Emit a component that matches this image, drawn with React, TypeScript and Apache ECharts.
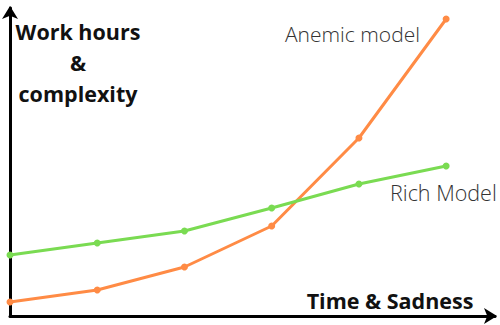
import React, { useEffect, useRef } from "react";
import * as echarts from "echarts";

const xPositions = [0, 1, 2, 3, 4, 5];
const anemicValues = [14, 26, 49, 90, 178, 297];
const richValues = [61, 73, 85, 108, 132, 150];
const yAxisTitle = "Work hours\n&\ncomplexity";
const xAxisTitle = "Time & Sadness";
const anemicLabel = "Anemic model";
const richLabel = "Rich Model";

export default function App() {
  const ref = useRef<HTMLDivElement>(null);
  useEffect(() => {
    if (!ref.current) return;
    const chart = echarts.init(ref.current, null, { renderer: "svg" });
    const font = "'Open Sans', sans-serif";
    chart.setOption({
      animation: false,
      backgroundColor: "#ffffff",
      grid: { left: 10, right: 5, top: 8, bottom: 9 },
      xAxis: {
        type: "value",
        min: 0,
        max: 5.56,
        axisLine: {
          show: true,
          symbol: ["none", "arrow"],
          symbolSize: [12, 13],
          symbolOffset: [0, 2],
          lineStyle: { color: "#000", width: 3 },
        },
        axisTick: { show: false },
        axisLabel: { show: false },
        splitLine: { show: false },
      },
      yAxis: {
        type: "value",
        min: 0,
        max: 308,
        axisLine: {
          show: true,
          symbol: ["none", "arrow"],
          symbolSize: [12, 13],
          symbolOffset: [0, 2],
          lineStyle: { color: "#000", width: 3 },
        },
        axisTick: { show: false },
        axisLabel: { show: false },
        splitLine: { show: false },
      },
      series: [
        {
          name: anemicLabel,
          type: "line",
          data: xPositions.map((x, i) => [x, anemicValues[i]]),
          symbol: "circle",
          symbolSize: 7,
          lineStyle: { color: "#FF8B45", width: 3 },
          itemStyle: { color: "#FF8B45" },
        },
        {
          name: richLabel,
          type: "line",
          data: xPositions.map((x, i) => [x, richValues[i]]),
          symbol: "circle",
          symbolSize: 7,
          lineStyle: { color: "#7ADB52", width: 3 },
          itemStyle: { color: "#7ADB52" },
        },
      ],
      graphic: [
        {
          type: "text",
          x: 78,
          y: 16,
          style: {
            text: yAxisTitle,
            fontFamily: font,
            fontWeight: "bold",
            fontSize: 21.5,
            lineHeight: 31,
            fill: "#111",
            align: "center",
            verticalAlign: "top",
          },
        },
        {
          type: "text",
          x: 390,
          y: 300,
          style: {
            text: xAxisTitle,
            fontFamily: font,
            fontWeight: "bold",
            fontSize: 21.5,
            fill: "#111",
            align: "center",
            verticalAlign: "middle",
          },
        },
        {
          type: "text",
          x: 285,
          y: 34,
          style: {
            text: anemicLabel,
            fontFamily: font,
            fontWeight: 300,
            fontSize: 21,
            fill: "#333",
            align: "left",
            verticalAlign: "middle",
          },
        },
        {
          type: "text",
          x: 390,
          y: 192,
          style: {
            text: richLabel,
            fontFamily: font,
            fontWeight: 300,
            fontSize: 21.5,
            fill: "#333",
            align: "left",
            verticalAlign: "middle",
          },
        },
      ],
    });
    return () => chart.dispose();
  }, []);
  return <div ref={ref} style={{ width: 500, height: 325, position: "fixed", left: 0, top: 0 }} />;
}
